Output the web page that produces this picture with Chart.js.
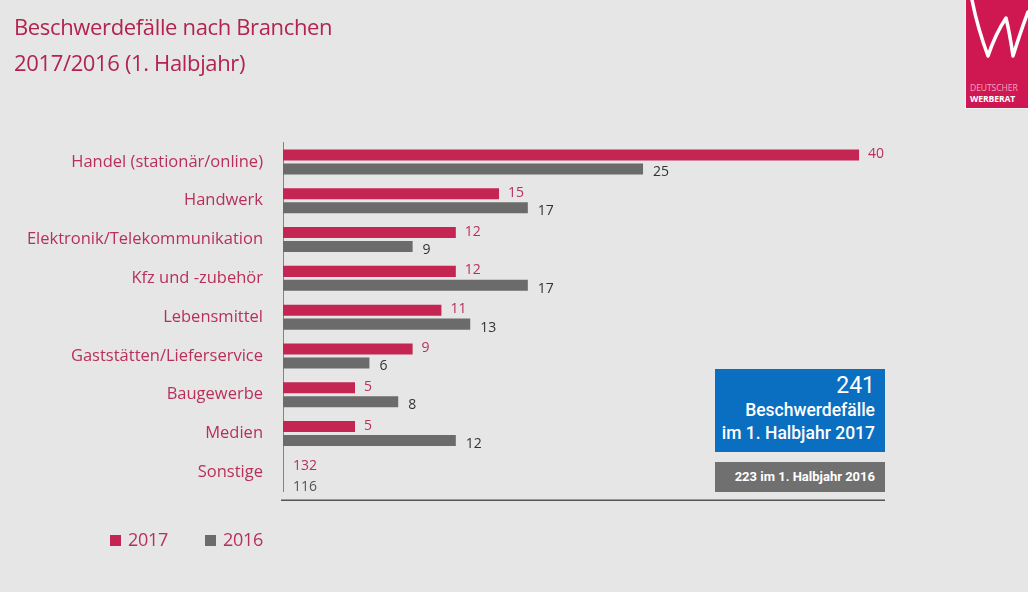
<!DOCTYPE html>
<html lang="de">
<head>
<meta charset="utf-8">
<script src="https://cdn.jsdelivr.net/npm/chart.js@4/dist/chart.umd.min.js"></script>
<style>
  html, body { margin:0; padding:0; background:#e6e6e6; }
  #wrap { position:relative; width:1028px; height:592px; overflow:hidden; font-family:"Open Sans", "Noto Sans", sans-serif; }
  #chartBox { position:absolute; left:0; top:0; width:1028px; height:592px; }
  .title { position:absolute; left:14px; color:#b3234f; font-size:22px; letter-spacing:-0.35px; white-space:nowrap; }
  .legend { position:absolute; top:527px; display:flex; align-items:center; color:#b8305a; font-size:18px; letter-spacing:-0.3px; }
  .legend i { display:inline-block; width:11px; height:11px; margin-right:7px; margin-top:3px; }
  .box { position:absolute; color:#fff; text-align:right; font-family:Roboto, "Open Sans", sans-serif; box-sizing:border-box; }
  #logo { position:absolute; left:965px; top:0; width:63px; height:109px; background:#cf1752; border-left:1px solid #f2f2f2; border-bottom:1px solid #f2f2f2; box-sizing:border-box; }
  #logo .t1 { position:absolute; left:4px; top:82px; font-size:8.6px; color:#f6a3bd; font-family:"Open Sans", sans-serif; letter-spacing:-0.1px; }
  #logo .t2 { position:absolute; left:4px; top:93px; font-size:8.6px; color:#fff; font-weight:700; font-family:"Open Sans", sans-serif; letter-spacing:-0.1px; }
</style>
</head>
<body>
<div id="wrap">
  <div id="chartBox"><canvas id="c"></canvas></div>
  <div class="title" style="top:11px;">Beschwerdefälle nach Branchen</div>
  <div class="title" style="top:47px;">2017/2016 (1. Halbjahr)</div>

  <div class="legend" style="left:110px;"><i style="background:#c42552"></i>2017</div>
  <div class="legend" style="left:205px;"><i style="background:#6b6b6b"></i>2016</div>

  <div class="box" id="blueBox" style="left:715px; top:369px; width:170px; height:83px; background:#0a6fc1; padding:3px 10px 0 0;">
    <div id="totalNow" style="font-size:23px; line-height:27px;"></div>
    <div style="font-size:17.5px; line-height:23px; font-weight:500;">Beschwerdefälle</div>
    <div id="totalNowLabel" style="font-size:17.5px; line-height:23px; font-weight:500;"></div>
  </div>
  <div class="box" id="greyBox" style="left:715px; top:462px; width:170px; height:30px; background:#707070; padding:6px 10px 0 0; font-size:13px; font-weight:700; line-height:18px;"></div>

  <div id="logo">
    <svg width="62" height="80" viewBox="0 0 62 80" style="position:absolute;left:0;top:0;">
      <path d="M6 0 C 10 20, 16 40, 22 56 C 26 44, 32 30, 40 18 C 43 30, 45 42, 47 56 C 52 40, 57 25, 62 12" fill="none" stroke="#fff" stroke-width="3.5" stroke-linecap="round" stroke-linejoin="round"/>
    </svg>
    <div class="t1">DEUTSCHER</div>
    <div class="t2">WERBERAT</div>
  </div>
</div>
<script>
// ---- data ----
const categories = ["Handel (stationär/online)", "Handwerk", "Elektronik/Telekommunikation", "Kfz und -zubehör", "Lebensmittel", "Gaststätten/Lieferservice", "Baugewerbe", "Medien", "Sonstige"];
const values2017 = [40, 15, 12, 12, 11, 9, 5, 5, 132];
const values2016 = [25, 17, 9, 17, 13, 6, 8, 12, 116];
const seriesNames = ["2017", "2016"];
const total2017 = 241;
const total2016 = 223;
const unscaledCategory = "Sonstige"; // shown only as a number, no bar

document.getElementById('totalNow').textContent = total2017;
document.getElementById('totalNowLabel').textContent = 'im 1. Halbjahr ' + seriesNames[0];
document.getElementById('greyBox').textContent = total2016 + ' im 1. Halbjahr ' + seriesNames[1];

const barData = arr => arr.map((v, i) => categories[i] === unscaledCategory ? null : v);
const rawSeries = [values2017, values2016];

const crimson = '#c42552';
const grey = '#6b6b6b';

const valueLabels = {
  id: 'valueLabels',
  afterDatasetsDraw(chart) {
    const ctx = chart.ctx;
    const xs = chart.scales.x;
    ctx.save();
    ctx.font = '14px "Open Sans", sans-serif';
    ctx.textBaseline = 'middle';
    ctx.textAlign = 'left';
    chart.data.datasets.forEach((ds, di) => {
      const meta = chart.getDatasetMeta(di);
      meta.data.forEach((el, i) => {
        const v = rawSeries[di][i];
        let x = el.x;
        let y = el.y;
        if (di === 0) { ctx.fillStyle = '#b8305a'; x += 9; y -= 1; }
        else { ctx.fillStyle = '#333'; x += 10; y += 3.5; }
        if (ds.data[i] == null) { x = xs.getPixelForValue(0) + 10; y = di === 0 ? el.y + 1 : el.y + 8; ctx.fillStyle = di === 0 ? '#b8305a' : '#555'; }
        ctx.fillText(String(v), x, y);
      });
    });
    // bottom rule
    ctx.strokeStyle = '#555';
    ctx.lineWidth = 1.5;
    ctx.beginPath();
    ctx.moveTo(xs.left - 2, chart.chartArea.bottom + 8.5);
    ctx.lineTo(xs.right, chart.chartArea.bottom + 8.5);
    ctx.stroke();
    ctx.restore();
  }
};

new Chart(document.getElementById('c'), {
  type: 'bar',
  data: {
    labels: categories,
    datasets: [
      { label: seriesNames[0], data: barData(values2017), backgroundColor: crimson },
      { label: seriesNames[1], data: barData(values2016), backgroundColor: grey }
    ]
  },
  options: {
    indexAxis: 'y',
    responsive: true,
    maintainAspectRatio: false,
    animation: false,
    categoryPercentage: 0.72,
    barPercentage: 0.79,
    layout: { padding: { top: 142.6, bottom: 100.3, right: 143, left: 0 } },
    plugins: { legend: { display: false }, tooltip: { enabled: false } },
    scales: {
      x: { display: false, min: 0, max: 41.8 },
      y: {
        grid: { display: false, drawTicks: false },
        border: { display: true, color: '#c8607e', width: 1 },
        ticks: { color: '#b8305a', padding: 20, font: { family: '"Open Sans", sans-serif', size: 16.5 } },
        afterFit(scale) { scale.width = 283; }
      }
    }
  },
  plugins: [valueLabels]
});
</script>
</body>
</html>
